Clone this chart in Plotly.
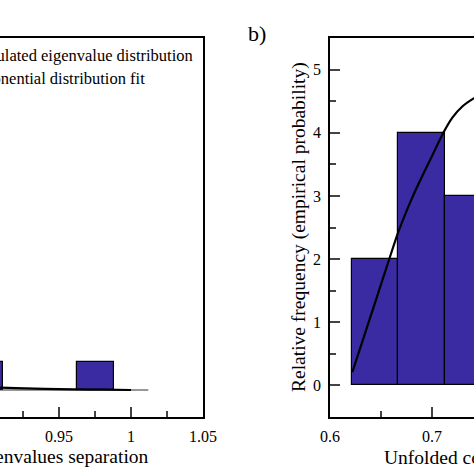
import plotly.graph_objects as go
from plotly.subplots import make_subplots

# panel a) - eigenvalue separation histogram (only right part visible)
sep_centers = [0.8983, 0.9754]
sep_counts = [1, 1]
sep_base_x = [0.90, 1.012]
sep_base_y = [0, 0]
sep_fit_x = [0.905, 0.92, 0.94, 0.96, 0.98, 1.0]
sep_fit_y = [0.09, 0.07, 0.04, 0.02, 0.01, 0.0]

# panel b) - unfolded histogram
unf_centers = [0.6443, 0.6897, 0.7351]
unf_freq = [2, 4, 3]
unf_fit_x = [0.6219, 0.645, 0.6581, 0.667, 0.68, 0.69, 0.70, 0.7111, 0.72, 0.73, 0.7405, 0.76]
unf_fit_y = [0.21, 1.35, 2.0, 2.43, 2.95, 3.30, 3.63, 4.0, 4.24, 4.42, 4.54, 4.72]

W = H = 474
BAR = '#3b2ba3'
FONT = 'Liberation Serif'

def px(v):
    return v / W

def py(v):
    return 1 - v / H

fig = make_subplots(rows=1, cols=2)

fig.add_trace(go.Bar(x=sep_centers, y=sep_counts, width=0.0257,
                     marker=dict(color=BAR, line=dict(color='black', width=1.2)),
                     showlegend=False), row=1, col=1)
fig.add_trace(go.Scatter(x=sep_base_x, y=sep_base_y, mode='lines',
                         line=dict(color='#333', width=1.2), showlegend=False), row=1, col=1)
fig.add_trace(go.Scatter(x=sep_fit_x, y=sep_fit_y, mode='lines',
                         line=dict(color='black', width=2.2, shape='spline'),
                         showlegend=False), row=1, col=1)

fig.add_trace(go.Bar(x=unf_centers, y=unf_freq, width=0.0454,
                     marker=dict(color=BAR, line=dict(color='black', width=1.2)),
                     showlegend=False), row=1, col=2)
fig.add_trace(go.Scatter(x=unf_fit_x, y=unf_fit_y, mode='lines',
                         line=dict(color='black', width=2.2, shape='spline', smoothing=0.6),
                         showlegend=False), row=1, col=2)

tickfont = dict(family=FONT, size=16, color='black')
ydom = [py(417), py(38)]

fig.update_xaxes(domain=[0, px(203)], range=[0.909, 1.05], row=1, col=1,
                 tick0=0.95, dtick=0.05, ticks='inside', ticklen=10, tickwidth=1.5,
                 minor=dict(ticks='inside', dtick=0.025, tick0=0.925, ticklen=6, tickwidth=1.5),
                 showline=True, mirror=True, linecolor='black', linewidth=1.8,
                 showgrid=False, zeroline=False, tickfont=tickfont, ticklabelstandoff=4)
fig.update_yaxes(domain=ydom, range=[-0.964, 12.57], row=1, col=1,
                 side='right', showticklabels=False, ticks='',
                 showline=True, linecolor='black', linewidth=1.8,
                 showgrid=False, zeroline=False)

fig.update_xaxes(domain=[px(330), 1], range=[0.6, 0.7412], row=1, col=2,
                 tick0=0.6, dtick=0.1, ticks='inside', ticklen=10, tickwidth=1.5,
                 minor=dict(ticks='inside', dtick=0.05, tick0=0.6, ticklen=6, tickwidth=1.5),
                 showline=True, mirror=True, linecolor='black', linewidth=1.8,
                 showgrid=False, zeroline=False, tickfont=tickfont, ticklabelstandoff=4)
fig.update_yaxes(domain=ydom, range=[-0.5, 5.5], row=1, col=2,
                 tick0=0, dtick=1, ticks='inside', ticklen=10, tickwidth=1.5,
                 minor=dict(ticks='inside', dtick=0.5, tick0=0, ticklen=6, tickwidth=1.5),
                 showline=True, linecolor='black', linewidth=1.8,
                 showgrid=False, zeroline=False, tickfont=tickfont, ticklabelstandoff=4)

txt = dict(family=FONT, size=19.5, color='black')
legfont = dict(family=FONT, size=16.5, color='black')
ann = [
    dict(text='Simulated eigenvalue distribution', x=px(195), y=py(55),
         xanchor='right', yanchor='middle', font=legfont),
    dict(text='Exponential distribution fit', x=px(147), y=py(78),
         xanchor='right', yanchor='middle', font=legfont),
    dict(text='Eigenvalues separation', x=px(151), y=py(456),
         xanchor='right', yanchor='middle', font=txt),
    dict(text='Unfolded correlations', x=px(382), y=py(457),
         xanchor='left', yanchor='middle', font=txt),
    dict(text='Relative frequency (empirical probability)', x=px(299), y=py(227),
         xanchor='center', yanchor='middle', textangle=-90, font=txt),
    dict(text='b)', x=px(257), y=py(33), xanchor='center', yanchor='middle',
         font=dict(family=FONT, size=22, color='black')),
]
for a in ann:
    a.update(xref='paper', yref='paper', showarrow=False)

fig.update_layout(width=W, height=H, margin=dict(l=0, r=0, t=0, b=0, autoexpand=False),
                  paper_bgcolor='white', plot_bgcolor='white',
                  bargap=0, annotations=ann, showlegend=False)

fig.write_html("out.html", config={'displayModeBar': False},
               post_script="document.body.style.margin='0';document.body.style.overflow='hidden';")
